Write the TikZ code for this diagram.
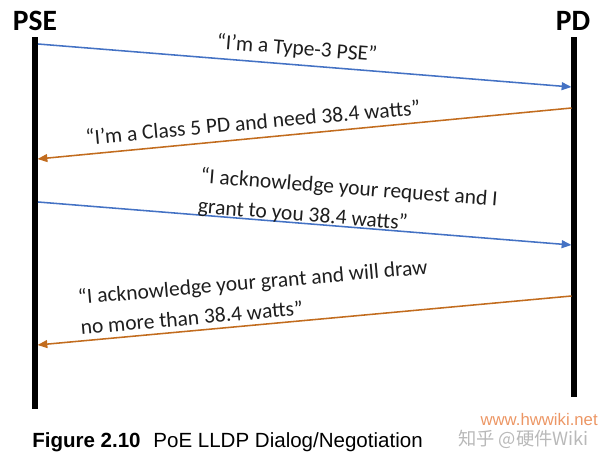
\documentclass[tikz,border=0pt]{standalone}
\usepackage{fontspec}
\setmainfont{Carlito}
\newfontfamily\capfont{Liberation Sans}
\newfontfamily\cjkfont{Noto Sans CJK SC}
\usetikzlibrary{arrows.meta,positioning}
\definecolor{msgblue}{RGB}{68,114,196}
\definecolor{msgorange}{RGB}{194,108,30}
\definecolor{wmorange}{RGB}{236,150,100}
\definecolor{wmgray}{RGB}{185,185,185}
\definecolor{saytext}{RGB}{30,30,30}

\begin{document}
\begin{tikzpicture}[x=0.025cm, y=-0.025cm,
        life/.style = {draw, line width=3.6pt},
        msg/.style = {draw, line width=1.1pt, -{Triangle[length=7pt,width=5.6pt]}},
        say/.style = {inner sep=0pt, text=saytext, font=\fontsize{15.3}{21.5}\selectfont, align=left},
        actor/.style = {inner sep=0pt, font=\fontsize{21}{24}\selectfont\bfseries}]
        \useasboundingbox (0,0) rectangle (600,467);
        \node (pse) at (35,21) [actor] {PSE};
        \node (pd) at (573,21) [actor] {PD};
        \coordinate (psetop) at (35,37);
        \coordinate (psebot) at (35,409);
        \coordinate (pdtop) at (574,37);
        \coordinate (pdbot) at (574,397);
        \path [life] (psetop) -- (psebot);
        \path [life] (pdtop) -- (pdbot);
        % messages, PSE side and PD side
        \coordinate (pse1) at (38,44);
        \coordinate (pd1) at (571.5,87);
        \coordinate (pd2) at (571.5,108);
        \coordinate (pse2) at (37.5,159);
        \coordinate (pse3) at (38,202);
        \coordinate (pd3) at (571.5,245);
        \coordinate (pd4) at (571.5,296);
        \coordinate (pse4) at (37.5,345);
        \path [msg, msgblue] (pse1) -- (pd1);
        \path [msg, msgorange] (pd2) -- (pse2);
        \path [msg, msgblue] (pse3) -- (pd3);
        \path [msg, msgorange] (pd4) -- (pse4);
        \node (say1) at (297,49) [say, rotate=-4.6] {“I’m a Type-3 PSE”};
        \node (say2) at (253,122) [say, rotate=5.2] {“I’m a Class 5 PD and need 38.4 watts”};
        \node (say3) at (199,192) [say, rotate=-4.5, anchor=west] {“I acknowledge your request and I\\grant to you 38.4 watts”};
        \node (say4) at (79,312) [say, rotate=5, anchor=west] {“I acknowledge your grant and will draw\\no more than 38.4 watts”};
        % caption and marks
        \node (caption) at (32,447) [anchor=base west, inner sep=0pt, font=\capfont\fontsize{14.6}{16}\selectfont] {\textbf{Figure 2.10}\hspace{5pt} PoE LLDP Dialog/Negotiation};
        \node (site) at (598,425) [anchor=base east, inner sep=0pt, text=wmorange, font=\capfont\fontsize{11.9}{14}\selectfont] {www.hwwiki.net};
        \node (zhihu) at (458,445) [anchor=base west, inner sep=0pt, text=wmgray, font=\cjkfont\fontsize{13}{14}\selectfont] {知乎 @硬件Wiki};
    \end{tikzpicture}
\end{document}
